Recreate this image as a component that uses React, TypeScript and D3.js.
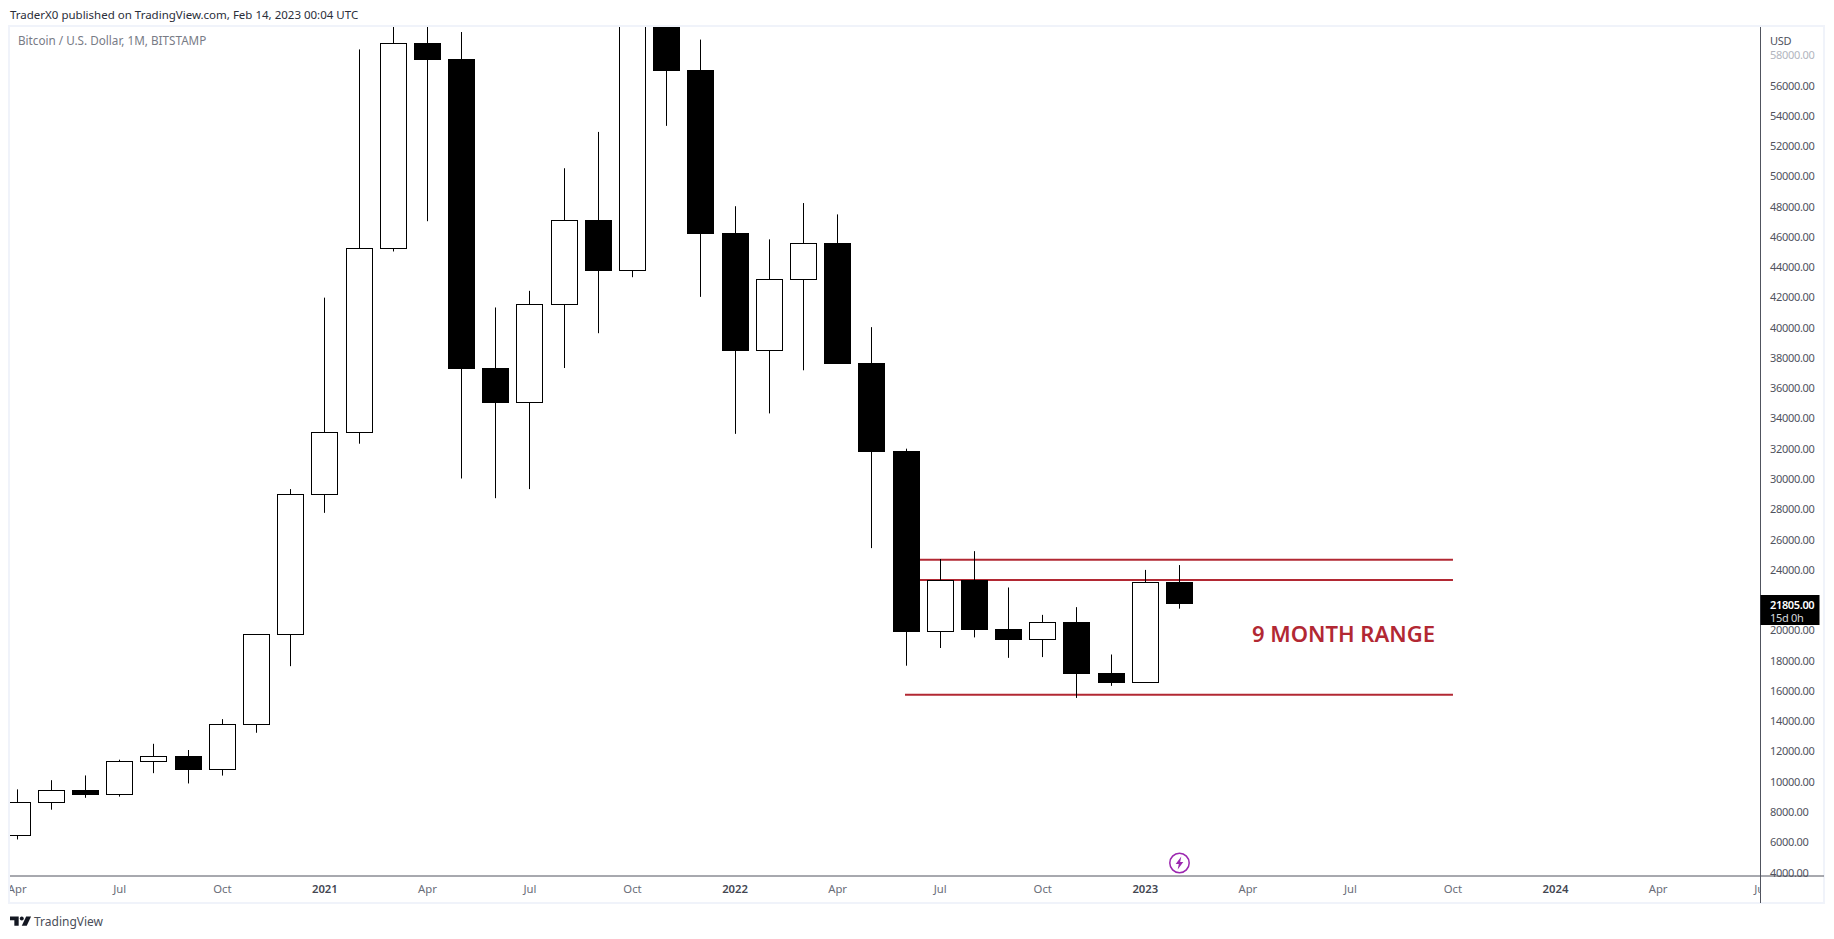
import * as d3 from "d3";

const months = d3.utcMonth.range(new Date(Date.UTC(2020, 3, 1)), new Date(Date.UTC(2024, 6, 2)));

// monthly candles, Apr 2020 to Feb 2023
const opens = [6425, 8620, 9446, 9135, 11340, 11645, 10780, 13800, 19700, 28990, 33100, 45200, 58800, 57700, 37300, 35040, 41500, 47100, 43800, 61300, 57000, 46200, 38480, 43170, 45530, 37640, 31800, 19950, 23300, 20050, 19420, 20490, 17160, 16540, 23130];
const highs = [9460, 10067, 10380, 11420, 12470, 12060, 14100, 19490, 29300, 41950, 58350, 61780, 64900, 59500, 41300, 42400, 50500, 52900, 67000, 69000, 59000, 47990, 45800, 48200, 47450, 40000, 31970, 24680, 25200, 22800, 20990, 21500, 18370, 23960, 24280];
const lows = [6150, 8117, 8900, 8980, 10530, 9850, 10370, 13200, 17600, 27730, 32300, 45000, 47000, 30000, 28700, 29300, 37300, 39600, 43300, 53300, 42000, 32950, 34300, 37150, 37600, 25400, 17630, 18800, 19500, 18150, 18200, 15500, 16300, 16500, 21400];
const closes = [8620, 9446, 9135, 11340, 11645, 10780, 13800, 19700, 28990, 33100, 45200, 58800, 57700, 37300, 35040, 41500, 47100, 43800, 61300, 57000, 46200, 38480, 43170, 45530, 37640, 31800, 19900, 23300, 20050, 19420, 20490, 17160, 16540, 23130, 21805];

const priceTicks = d3.range(4000, 58001, 2000);
const rangeLevels = [24630, 23290, 15715];
const lastPrice = 21805;

/** chart frame */
const width = 1834;
const height = 939;
const paneLeft = 10;
const paneTop = 27;
const paneRight = 1760.5;
const paneBottom = 876;
const frameRight = 1824;
const frameBottom = 903;

const step = 34.185;
const firstCandle = 17.2;
const x = d3
  .scaleBand<number>()
  .domain(d3.range(months.length))
  .range([firstCandle - step / 2, firstCandle - step / 2 + step * months.length]);
const cx = (i: number) => (x(i) ?? 0) + x.bandwidth() / 2;
const y = d3.scaleLinear().domain([4000, 56000]).range([872, 85]);

const timeTicks = months
  .map((m, i) => ({ m, i }))
  .filter(({ m }) => m.getUTCMonth() % 3 === 0);
const monthLabel = d3.utcFormat("%b");

const uiFont = "'Noto Sans', sans-serif";
const axisColor = "#50535e";
const frameColor = "#f0f3fa";
const red = "#b22833";

const App = () => (
  <svg
    width={width}
    height={height}
    viewBox={`0 0 ${width} ${height}`}
    style={{ position: "absolute", left: 0, top: 0, background: "#fff" }}
    fontFamily={uiFont}
  >
    <defs>
      <clipPath id="pane">
        <rect x={paneLeft} y={paneTop} width={paneRight - paneLeft} height={paneBottom - paneTop} />
      </clipPath>
      <clipPath id="timeAxis">
        <rect x={paneLeft} y={paneBottom} width={paneRight - paneLeft} height={frameBottom - paneBottom} />
      </clipPath>
    </defs>

    <text x={10} y={19} fontSize={11.5} fill="#2a2e39">
      TraderX0 published on TradingView.com, Feb 14, 2023 00:04 UTC
    </text>

    {/* frame */}
    <rect
      x={paneLeft - 1}
      y={paneTop - 1}
      width={frameRight - paneLeft + 1}
      height={frameBottom - paneTop + 1}
      fill="none"
      stroke={frameColor}
      strokeWidth={2}
    />

    <g clipPath="url(#pane)">
      {/* range lines, the candles sit on top of them */}
      {rangeLevels.map((level) => (
        <line
          key={level}
          x1={cx(26) - 1}
          x2={cx(42)}
          y1={y(level)}
          y2={y(level)}
          stroke={red}
          strokeWidth={2}
        />
      ))}
      {/* candles */}
      {months.slice(0, opens.length).map((_, i) => {
        const up = closes[i] >= opens[i];
        const top = Math.round(y(Math.max(opens[i], closes[i])));
        const bottom = Math.round(y(Math.min(opens[i], closes[i])));
        const c = Math.floor(cx(i));
        return (
          <g key={i}>
            <line x1={c + 0.5} x2={c + 0.5} y1={y(highs[i])} y2={y(lows[i])} stroke="#000" strokeWidth={1} />
            <rect
              x={c - 13 + 0.5}
              y={top + 0.5}
              width={26}
              height={Math.max(bottom - top, 1)}
              fill={up ? "#fff" : "#000"}
              stroke="#000"
              strokeWidth={1}
            />
          </g>
        );
      })}
      <text
        x={1343.5}
        y={633}
        dominantBaseline="central"
        textAnchor="middle"
        fontSize={22}
        fontWeight={600}
        fill={red}
      >
        9 MONTH RANGE
      </text>
    </g>

    <text x={18} y={45} fontSize={11.7} fill="#787b86">
      Bitcoin / U.S. Dollar, 1M, BITSTAMP
    </text>

    {/* zap marker */}
    <g transform={`translate(${cx(34)}, 863)`}>
      <circle r={9.7} fill="#fff" stroke="#9c27b0" strokeWidth={1.5} />
      <path d="M1.8 -6.4 L-3.8 1 L-0.7 1 L-1.8 6.4 L3.8 -1 L0.7 -1 Z" fill="#9c27b0" />
    </g>

    {/* axes */}
    <line x1={paneLeft} x2={frameRight} y1={paneBottom} y2={paneBottom} stroke={axisColor} />
    <line x1={paneRight} x2={paneRight} y1={paneTop} y2={frameBottom} stroke={axisColor} />

    <g clipPath="url(#timeAxis)" fontSize={11.3} textAnchor="middle">
      {timeTicks.map(({ m, i }) => {
        const isYear = m.getUTCMonth() === 0;
        return (
          <text
            key={i}
            x={cx(i)}
            y={893}
            fill={isYear ? "#434651" : "#6a6d78"}
            fontWeight={isYear ? 600 : 400}
          >
            {isYear ? m.getUTCFullYear() : monthLabel(m)}
          </text>
        );
      })}
    </g>

    <g fontSize={11} letterSpacing={-0.3} fill="#50535e">
      {priceTicks.map((t) => (
        <text
          key={t}
          x={1770}
          y={y(t)}
          dominantBaseline="central"
          fill={t === 58000 ? "#b2b5be" : undefined}
        >
          {t.toFixed(2)}
        </text>
      ))}
      <text x={1770} y={40} dominantBaseline="central">
        USD
      </text>
    </g>

    {/* last price tag */}
    <rect x={paneRight} y={595} width={59} height={30} fill="#000" />
    <text x={1770} y={604} dominantBaseline="central" fontSize={11} letterSpacing={-0.35} fontWeight={600} fill="#fff">
      {lastPrice.toFixed(2)}
    </text>
    <text x={1770} y={617} dominantBaseline="central" fontSize={11} letterSpacing={-0.3} fill="#d6d8de">
      15d 0h
    </text>

    {/* TradingView logo */}
    <g transform="translate(10, 916.5) scale(0.62)" fill="#131722">
      <path d="M0 0H14V15H7V6H0Z" />
      <circle cx={19} cy={3.2} r={3.2} />
      <path d="M26 0H34L27 15H19Z" />
    </g>
    <text x={34} y={925.5} fontSize={12} fill="#4a4e59">
      TradingView
    </text>
  </svg>
);

export default App;
